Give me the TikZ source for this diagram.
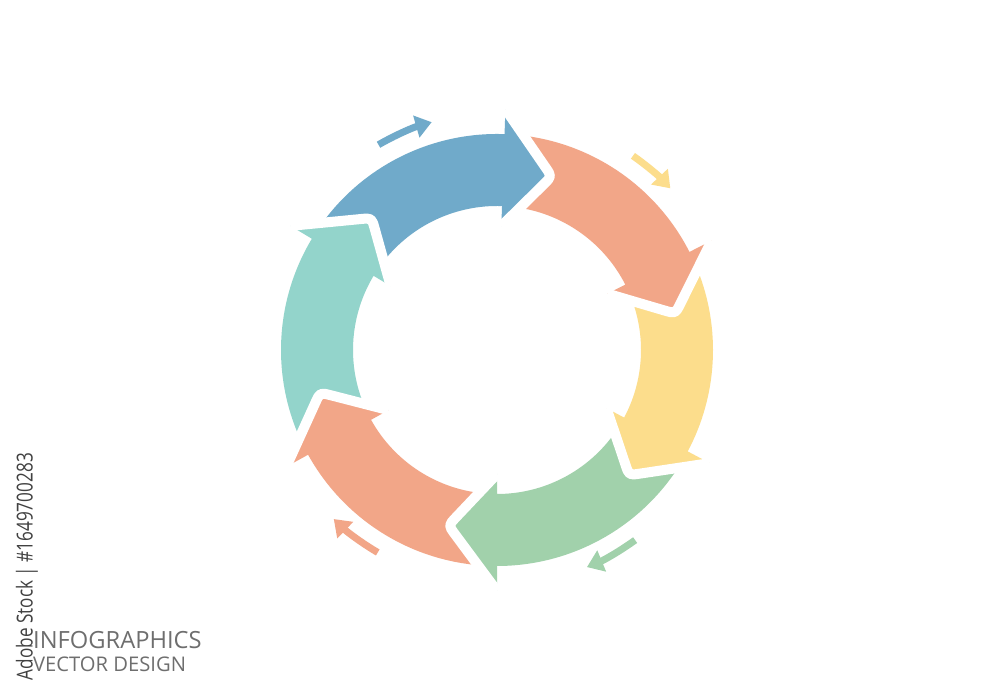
\documentclass[tikz,border=0pt]{standalone}
\usepackage{fontspec}
\setmainfont{Open Sans}
\usetikzlibrary{arrows.meta,calc}
\definecolor{cblue}{RGB}{112,170,202}
\definecolor{csalmon}{RGB}{242,166,136}
\definecolor{cyellow}{RGB}{252,221,140}
\definecolor{cgreen}{RGB}{161,209,171}
\definecolor{cteal}{RGB}{147,212,203}
\definecolor{ctext}{RGB}{110,110,110}
\definecolor{cmark}{RGB}{65,65,65}
\begin{document}
\begin{tikzpicture}[x=1pt,y=1pt,
  ringgap/.style={draw=white, line width=10pt, line join=round},
  smallarrow/.style={line width=7pt, -{Triangle[length=16pt,width=22pt]}},
  caption/.style={anchor=base west, inner sep=0pt, text=ctext}]
\useasboundingbox[fill=white] (0,0) rectangle (1000,700);
\begin{scope}[shift={(497,350)}]
  % ring arrows: tail angle p (= previous head angle), head angle w
  \foreach \p/\w/\c in {149/88/cblue, 88/27/csalmon, 27/-28/cyellow, -28/-90/cgreen, -90/-151/csalmon, 209/149/cteal}{
    \coordinate (tip) at (\w-15.5:182);
    \coordinate (ow) at (\w:241);
    \coordinate (iw) at (\w:124);
    \fill[\c] (\p-5.09:216) arc[start angle=\p-5.09, end angle=\w, radius=216pt]
      -- (ow) -- ($(tip)!11pt!(ow)$) .. controls (tip) .. ($(tip)!11pt!(iw)$) -- (iw) -- (\w:144)
      arc[start angle=\w, end angle=\p-7.13, radius=144pt]
      -- (\p-15.5:182) -- cycle;
  }
  % white gaps along every arrowhead edge
  \foreach \w in {88, 27, -28, -90, -151, 149}{
    \coordinate (tip) at (\w-15.5:182);
    \coordinate (ow) at (\w:241);
    \coordinate (iw) at (\w:124);
    \draw[ringgap] (ow) -- ($(tip)!11pt!(ow)$) .. controls (tip) .. ($(tip)!11pt!(iw)$) -- (iw);
  }
  % small arrows outside the ring
  \draw[smallarrow, cblue] (120:237) arc[start angle=120, end angle=106, radius=237pt];
  \draw[smallarrow, cyellow] (55:237) arc[start angle=55, end angle=43, radius=237pt];
  \draw[smallarrow, cgreen] (-54:235) arc[start angle=-54, end angle=-67.5, radius=235pt];
  \draw[smallarrow, csalmon] (239.5:235) arc[start angle=239.5, end angle=226, radius=235pt];
\end{scope}
\node[caption, font=\fontsize{23.7}{24}\selectfont] (t1) at (33,51.7) {INFOGRAPHICS};
\node[caption, font=\fontsize{20.2}{21}\selectfont] (t2) at (33,28.3) {VECTOR DESIGN};
\node[rotate=90, anchor=base east, inner sep=0pt, text=cmark, font=\fontsize{22}{22}\selectfont] (wm) at (32.5,247) {\scalebox{0.78}[1]{Adobe Stock | \#1649700283}};
\end{tikzpicture}
\end{document}
